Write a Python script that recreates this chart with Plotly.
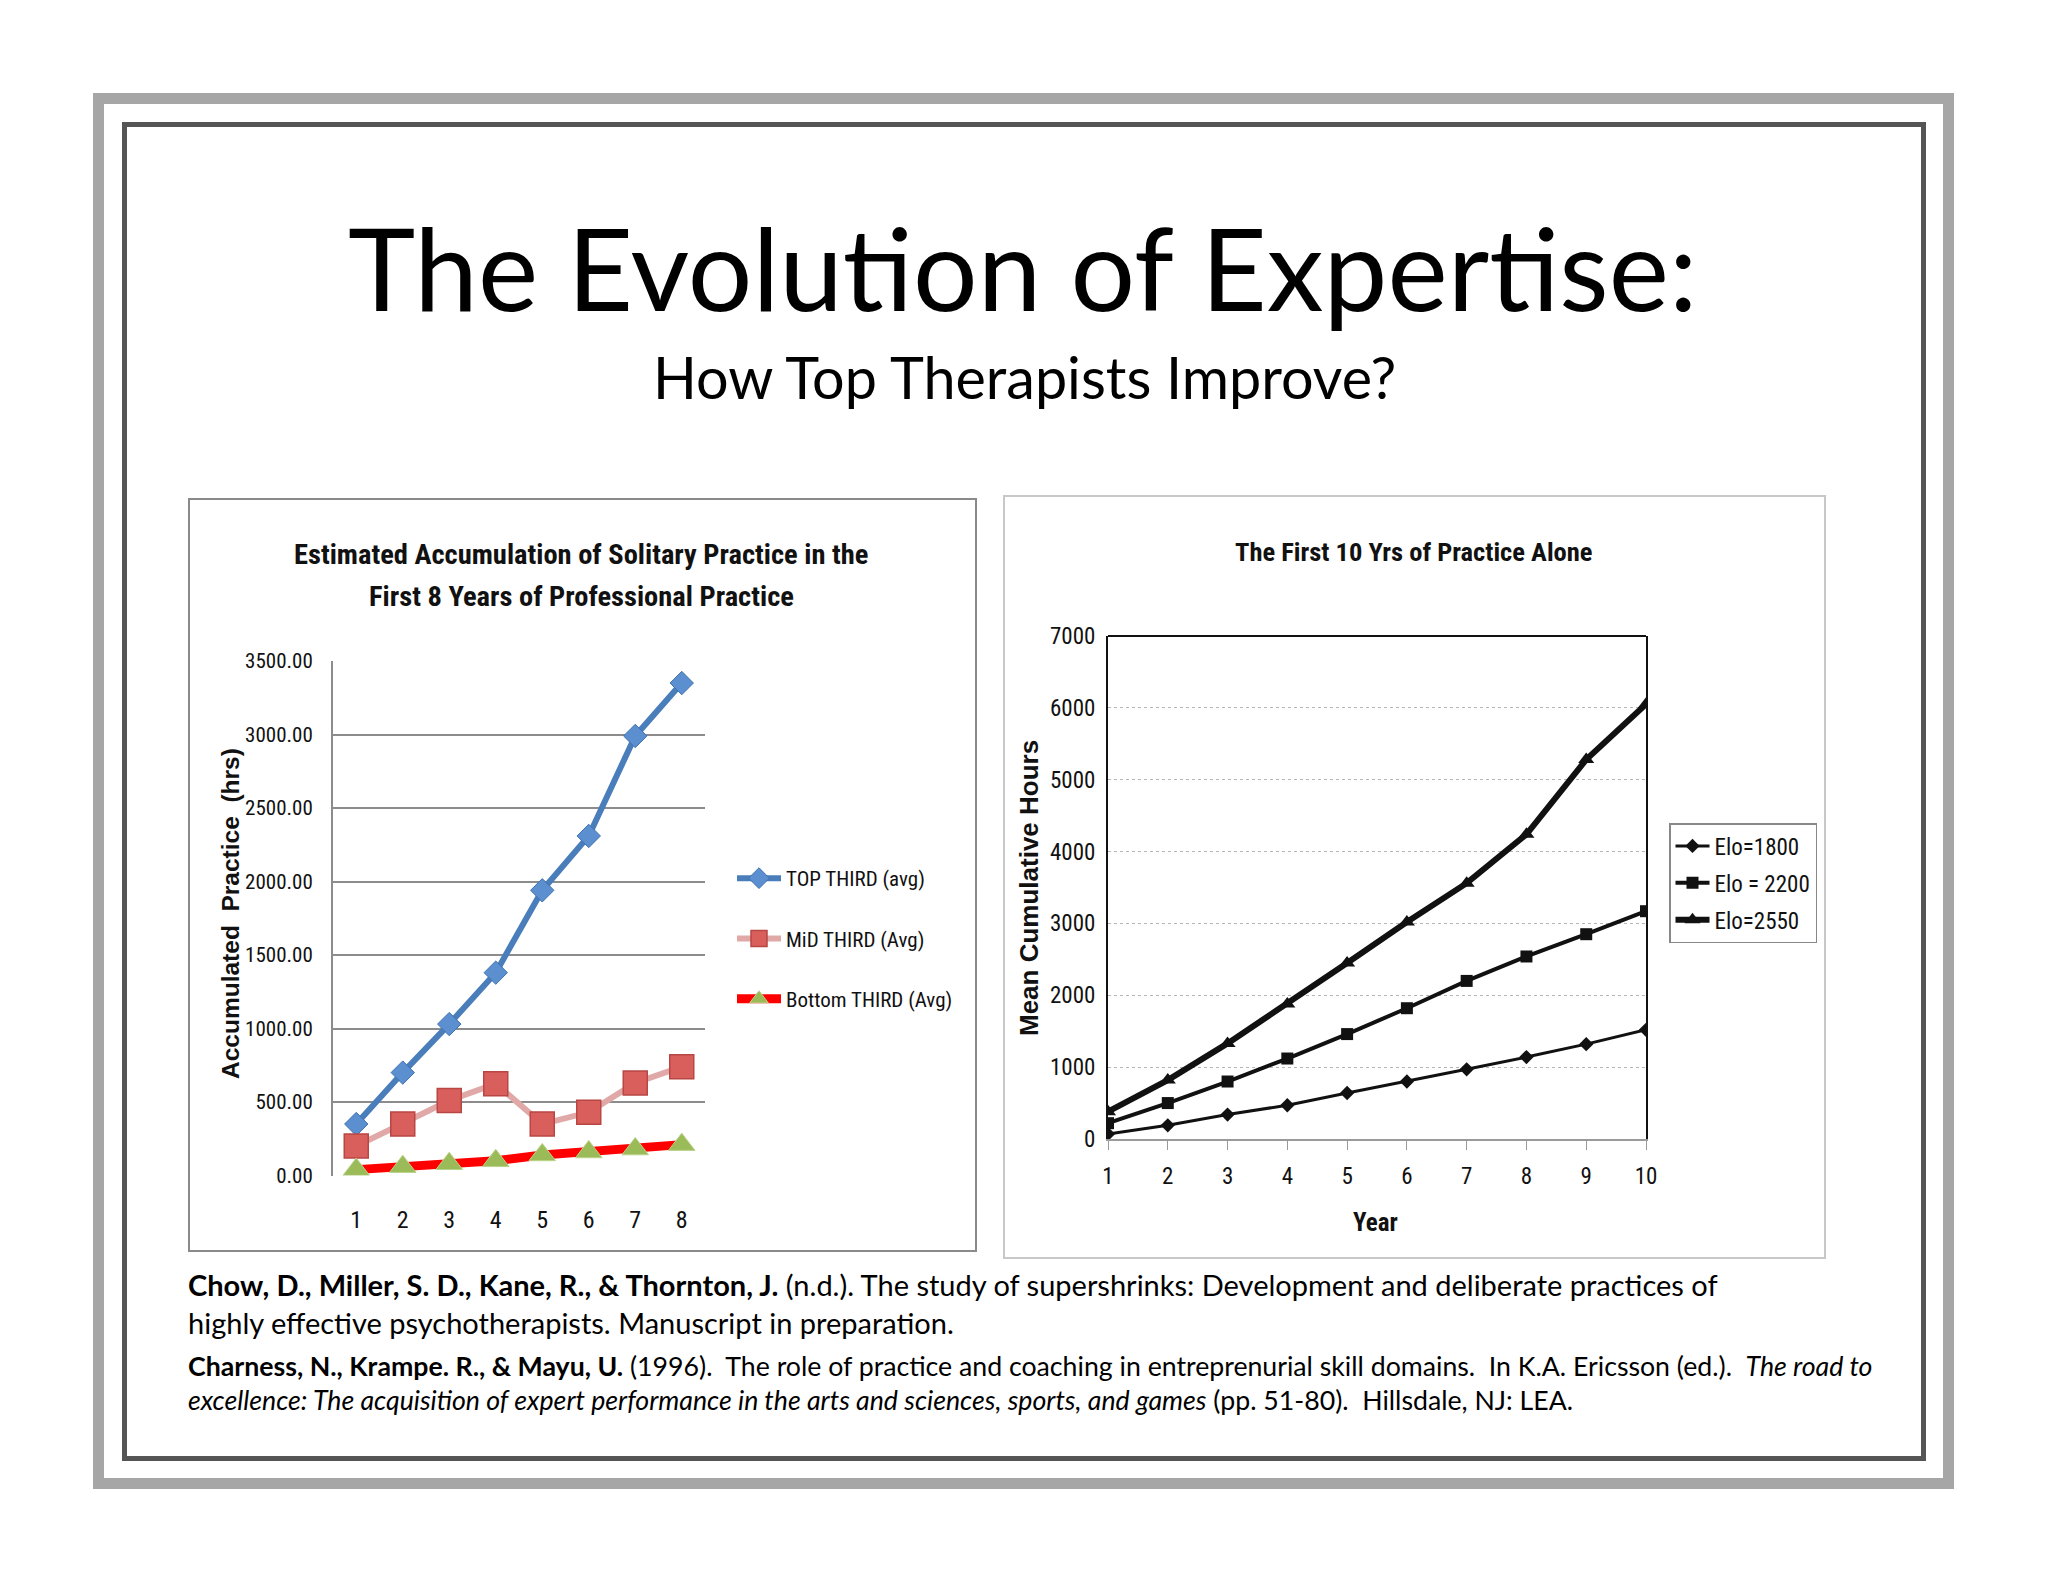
import plotly.graph_objects as go

W, H = 2048, 1582

# ---------------- data ----------------
left_years = [1, 2, 3, 4, 5, 6, 7, 8]
top_third = [350, 700, 1030, 1380, 1940, 2310, 2990, 3350]
mid_third = [200, 350, 510, 625, 350, 430, 630, 740]
bottom_third = [40, 60, 80, 100, 140, 160, 180, 210]
left_series_names = ["TOP THIRD (avg)", "MiD THIRD (Avg)", "Bottom THIRD (Avg)"]
left_yticks = [0, 500, 1000, 1500, 2000, 2500, 3000, 3500]

right_years = [1, 2, 3, 4, 5, 6, 7, 8, 9, 10]
elo_1800 = [70, 190, 340, 470, 640, 800, 970, 1140, 1320, 1520]
elo_2200 = [220, 500, 800, 1120, 1460, 1820, 2200, 2540, 2850, 3170]
elo_2550 = [380, 820, 1330, 1880, 2450, 3020, 3560, 4240, 5280, 6050]
right_series_names = ["Elo=1800", "Elo = 2200", "Elo=2550"]
right_yticks = [0, 1000, 2000, 3000, 4000, 5000, 6000, 7000]

main_title = "The Evolution of Expertise:"
subtitle = "How Top Therapists Improve?"
left_title_lines = ["Estimated Accumulation of Solitary Practice in the",
                    "First 8 Years of Professional Practice"]
left_ytitle = "Accumulated  Practice  (hrs)"
right_title = "The First 10 Yrs of Practice Alone"
right_ytitle = "Mean Cumulative Hours"
right_xtitle = "Year"
ref_lines = [
    "<b>Chow, D., Miller, S. D., Kane, R., &amp; Thornton, J.</b> (n.d.). The study of supershrinks: Development and deliberate practices of",
    "highly effective psychotherapists. Manuscript in preparation.",
    "<b>Charness, N., Krampe. R., &amp; Mayu, U.</b> (1996).  The role of practice and coaching in entreprenurial skill domains.  In K.A. Ericsson (ed.).  <i>The road to</i>",
    "<i>excellence: The acquisition of expert performance in the arts and sciences, sports, and games</i> (pp. 51-80).  Hillsdale, NJ: LEA.",
]


def px(x):
    return x / W


def py(y):
    return 1 - y / H


NARROW = "Liberation Sans Narrow, Arial Narrow, Roboto Condensed, Liberation Sans, Arial, sans-serif"
BODY = "Lato, Calibri, Open Sans, sans-serif"
BOLDSANS = "Liberation Sans, Arial, sans-serif"

fig = go.Figure()

# ---------------- left chart ----------------
fig.add_trace(go.Scatter(
    x=left_years, y=top_third, name=left_series_names[0], mode="lines+markers",
    line=dict(color="#4a7ebb", width=6),
    marker=dict(symbol="diamond", size=18, color="#5b8fd0", line=dict(color="#3f72b0", width=1)),
    xaxis="x", yaxis="y", legend="legend", legendgroup="a"))
fig.add_trace(go.Scatter(
    x=left_years, y=mid_third, name=left_series_names[1], mode="lines+markers",
    line=dict(color="#e0a9a8", width=6),
    marker=dict(symbol="square", size=24, color="#d95f5c", line=dict(color="#b84744", width=1.5)),
    xaxis="x", yaxis="y", legend="legend", legendgroup="b"))
fig.add_trace(go.Scatter(
    x=left_years, y=bottom_third, name=left_series_names[2], mode="lines+markers",
    line=dict(color="#ff0000", width=9),
    marker=dict(symbol="triangle-up", size=23, color="#9bbb59", line=dict(color="#b9d38a", width=1)),
    xaxis="x", yaxis="y", legend="legend", legendgroup="c"))

# ---------------- right chart ----------------
fig.add_trace(go.Scatter(
    x=right_years, y=elo_1800, name=right_series_names[0], mode="lines+markers",
    line=dict(color="#111111", width=3),
    marker=dict(symbol="diamond", size=11, color="#111111"),
    xaxis="x2", yaxis="y2", legend="legend2", legendgroup="d"))
fig.add_trace(go.Scatter(
    x=right_years, y=elo_2200, name=right_series_names[1], mode="lines+markers",
    line=dict(color="#111111", width=4),
    marker=dict(symbol="square", size=12, color="#111111"),
    xaxis="x2", yaxis="y2", legend="legend2", legendgroup="e"))
fig.add_trace(go.Scatter(
    x=right_years, y=elo_2550, name=right_series_names[2], mode="lines+markers",
    line=dict(color="#111111", width=6),
    marker=dict(symbol="triangle-up", size=14, color="#111111"),
    xaxis="x2", yaxis="y2", legend="legend2", legendgroup="f"))

# plot-area boxes (pixels)
L = dict(x0=333, x1=705, y0=661, y1=1175.5)
R = dict(x0=1108, x1=1646, y0=636, y1=1139)

fig.update_layout(
    width=W, height=H,
    margin=dict(l=0, r=0, t=0, b=0, pad=0, autoexpand=False),
    paper_bgcolor="white", plot_bgcolor="white",
    showlegend=True,
    xaxis=dict(domain=[px(L["x0"]), px(L["x1"])], range=[0.5, 8.5], anchor="y",
               tickvals=left_years, ticktext=[str(v) for v in left_years],
               showgrid=False, zeroline=False, showline=False, ticks="",
               ticklabelstandoff=27,
               tickfont=dict(family=NARROW, size=24, color="#111")),
    yaxis=dict(domain=[py(L["y1"]), py(L["y0"])], range=[0, 3500], anchor="x",
               tickvals=left_yticks, tickformat=".2f",
               showgrid=True, gridcolor="#8c8c8c", gridwidth=2,
               zeroline=False, showline=True, linecolor="#8c8c8c", linewidth=2,
               ticks="", ticklabelstandoff=14,
               tickfont=dict(family=NARROW, size=21, color="#111")),
    xaxis2=dict(domain=[px(R["x0"]), px(R["x1"])], range=[1, 10], anchor="y2",
                tickvals=right_years, showgrid=False, zeroline=False,
                showline=True, linecolor="#9a9a9a", linewidth=2,
                ticks="outside", ticklen=9, tickcolor="#9a9a9a", tickwidth=1,
                ticklabelstandoff=6,
                tickfont=dict(family=NARROW, size=23, color="#111")),
    yaxis2=dict(domain=[py(R["y1"]), py(R["y0"])], range=[0, 7000], anchor="x2",
                tickvals=right_yticks, showgrid=True, gridcolor="#b5b5b5", gridwidth=1,
                griddash="dot", zeroline=False,
                showline=True, linecolor="#111", linewidth=2, mirror=True,
                ticks="", ticklabelstandoff=6,
                tickfont=dict(family=NARROW, size=23, color="#111")),
    legend=dict(x=px(732), y=py(858), xanchor="left", yanchor="top",
                font=dict(family=NARROW, size=21, color="#111"),
                bgcolor="rgba(0,0,0,0)", borderwidth=0,
                traceorder="grouped", tracegroupgap=30, itemwidth=44,
                itemsizing="trace"),
    legend2=dict(x=px(1669), y=py(823), xanchor="left", yanchor="top",
                 font=dict(family=NARROW, size=23, color="#111"),
                 bgcolor="white", bordercolor="#888", borderwidth=1.5,
                 traceorder="grouped", tracegroupgap=4, itemwidth=34,
                 itemsizing="trace"),
)

shapes = []
# outer gray frame
shapes.append(dict(type="rect", xref="paper", yref="paper",
                   x0=px(98.5), x1=px(1948.5), y0=py(98.5), y1=py(1483.5),
                   line=dict(color="#a6a6a6", width=11)))
# inner dark frame
shapes.append(dict(type="rect", xref="paper", yref="paper",
                   x0=px(124.5), x1=px(1923.5), y0=py(124.5), y1=py(1458.5),
                   line=dict(color="#555555", width=5)))
# left chart box
shapes.append(dict(type="rect", xref="paper", yref="paper",
                   x0=px(189), x1=px(976), y0=py(499), y1=py(1251),
                   line=dict(color="#8a8a8a", width=2)))
# right chart box
shapes.append(dict(type="rect", xref="paper", yref="paper",
                   x0=px(1004), x1=px(1825), y0=py(496), y1=py(1258),
                   line=dict(color="#c8c8c8", width=2)))
# right plot top border
shapes.append(dict(type="line", xref="x2 domain", yref="y2 domain",
                   x0=0, x1=1, y0=1, y1=1, line=dict(color="#111", width=2)))
fig.update_layout(shapes=shapes)

ann = []
ann.append(dict(text=main_title, x=px(1022), y=py(266), xref="paper", yref="paper",
                xanchor="center", yanchor="middle", showarrow=False,
                font=dict(family=BODY, size=114, color="#000")))
ann.append(dict(text=subtitle, x=px(1024), y=py(376), xref="paper", yref="paper",
                xanchor="center", yanchor="middle", showarrow=False,
                font=dict(family=BODY, size=57.5, color="#000")))
for t, yy in zip(left_title_lines, [554, 596]):
    ann.append(dict(text="<b>" + t + "</b>", x=px(581), y=py(yy), xref="paper", yref="paper",
                    xanchor="center", yanchor="middle", showarrow=False,
                    font=dict(family=NARROW, size=28.5, color="#111")))
ann.append(dict(text="<b>" + left_ytitle + "</b>", x=px(230), y=py(914), xref="paper", yref="paper",
                xanchor="center", yanchor="middle", showarrow=False, textangle=-90,
                font=dict(family=BOLDSANS, size=24.5, color="#111")))
ann.append(dict(text="<b>" + right_title + "</b>", x=px(1414), y=py(551), xref="paper", yref="paper",
                xanchor="center", yanchor="middle", showarrow=False,
                font=dict(family=NARROW, size=26.5, color="#111")))
ann.append(dict(text="<b>" + right_ytitle + "</b>", x=px(1029), y=py(888), xref="paper", yref="paper",
                xanchor="center", yanchor="middle", showarrow=False, textangle=-90,
                font=dict(family=BOLDSANS, size=26, color="#111")))
ann.append(dict(text="<b>" + right_xtitle + "</b>", x=px(1375), y=py(1222), xref="paper", yref="paper",
                xanchor="center", yanchor="middle", showarrow=False,
                font=dict(family=NARROW, size=25, color="#111")))

ref_y = [1284, 1322, 1366, 1400]
ref_sizes = [29, 29, 26.7, 26.7]
for t, yy, sz in zip(ref_lines, ref_y, ref_sizes):
    ann.append(dict(text=t, x=px(186), y=py(yy), xref="paper", yref="paper",
                    xanchor="left", yanchor="middle", showarrow=False, align="left",
                    font=dict(family=BODY, size=sz, color="#000")))
fig.update_layout(annotations=ann)

fig.write_html("out.html")
